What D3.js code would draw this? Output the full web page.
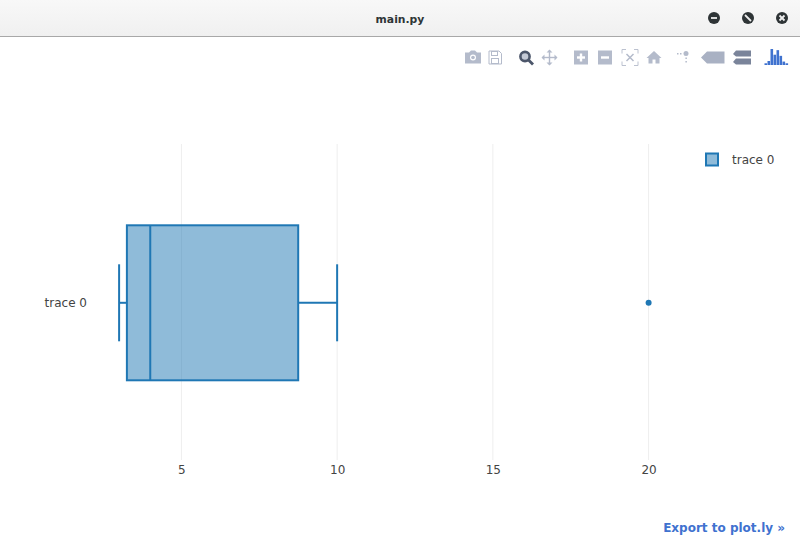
<!DOCTYPE html>
<html><head><meta charset="utf-8">
<script src="https://d3js.org/d3.v7.min.js"></script>
<style>html,body{margin:0;padding:0;background:#fff;overflow:hidden}svg{display:block}text{font-family:"DejaVu Sans",sans-serif}</style>
</head><body><svg id="c" width="800" height="549"></svg>
<script>
const traceNames = ["trace 0"];
const whiskerLow = [3];
const quartile1 = [3.25];
const medians = [4];
const quartile3 = [8.75];
const whiskerHigh = [10];
const outliers = [20];
const xTicks = [5, 10, 15, 20];
const windowTitle = "main.py";
const exportLabel = "Export to plot.ly »";

const svg = d3.select("#c");
const x = d3.scaleLinear().domain([5, 20]).range([181.4, 648.6]);
const y = d3.scaleBand().domain(traceNames).range([144, 460]).paddingInner(0).paddingOuter(0);
const blue = "#1f77b4";

// window chrome
const defs = svg.append("defs");
const g0 = defs.append("linearGradient").attr("id","tb").attr("x1",0).attr("x2",0).attr("y1",0).attr("y2",1);
g0.append("stop").attr("offset",0).attr("stop-color","#f8f8f8");
g0.append("stop").attr("offset",1).attr("stop-color","#f0f0f0");
svg.append("rect").attr("width",800).attr("height",36).attr("fill","url(#tb)");
svg.append("rect").attr("y",36).attr("width",800).attr("height",1).attr("fill","#a8a8a8");
svg.append("text").attr("x",400).attr("y",22.5).attr("text-anchor","middle").attr("font-size",10.8).attr("font-weight","bold").attr("fill","#2e3436").text(windowTitle);
const wb = svg.append("g").attr("fill","#2e3436");
[714,748,782].forEach((cx,i)=>{
  wb.append("circle").attr("cx",cx).attr("cy",18).attr("r",6);
  const s={stroke:"#eee","stroke-width":1.8};
  const l=(a,b,c,d)=>wb.append("line").attr("x1",a).attr("y1",b).attr("x2",c).attr("y2",d).attr("stroke",s.stroke).attr("stroke-width",s["stroke-width"]);
  if(i==0) l(cx-3,18,cx+3,18);
  if(i==1) l(cx-3,15,cx+3,21);
  if(i==2){l(cx-2.5,15.5,cx+2.5,20.5);l(cx-2.5,20.5,cx+2.5,15.5);}
});

// toolbar
const tb = svg.append("g");
const grey="#b4bbcb", dark="#7a849a";
const cam=tb.append("g").attr("transform","translate(473,57.5)");
cam.append("path").attr("d","M-8,-5H-4L-2,-7H2L4,-5H8V6H-8Z").attr("fill",grey);
cam.append("circle").attr("r",3).attr("fill","#fff");cam.append("circle").attr("r",1.8).attr("fill",grey);
const sv=tb.append("g").attr("transform","translate(495,57.5)");
sv.append("path").attr("d","M-6,-6.5H4L6.5,-4V6.5H-6Z").attr("fill","none").attr("stroke",grey).attr("stroke-width",1);
sv.append("rect").attr("x",-3.5).attr("y",-6).attr("width",6).attr("height",4).attr("fill","none").attr("stroke",grey);
sv.append("rect").attr("x",-3.5).attr("y",1).attr("width",7).attr("height",5).attr("fill","none").attr("stroke",grey);
const zm=tb.append("g").attr("transform","translate(525,56.5)");
zm.append("circle").attr("r",4.6).attr("fill","#c4cad6").attr("stroke","#4c566a").attr("stroke-width",2.6);
zm.append("line").attr("x1",3.5).attr("y1",3.5).attr("x2",8).attr("y2",8).attr("stroke","#4c566a").attr("stroke-width",2.8);
const pn=tb.append("g").attr("transform","translate(549.5,57.5)").attr("stroke",grey).attr("stroke-width",1.4).attr("fill",grey);
pn.append("line").attr("x1",-7).attr("x2",7);pn.append("line").attr("y1",-7).attr("y2",7);
pn.append("path").attr("stroke","none").attr("d","M-8,0L-5,-3V3ZM8,0L5,-3V3ZM0,-8L-3,-5H3ZM0,8L-3,5H3Z");
[[581,"p"],[605,"m"]].forEach(([cx,t])=>{
  const g=tb.append("g").attr("transform",`translate(${cx},57.5)`);
  g.append("rect").attr("x",-7).attr("y",-7).attr("width",14).attr("height",14).attr("fill",grey);
  g.append("rect").attr("x",-4).attr("y",-1.2).attr("width",8).attr("height",2.4).attr("fill","#fff");
  if(t=="p") g.append("rect").attr("x",-1.2).attr("y",-4).attr("width",2.4).attr("height",8).attr("fill","#fff");
});
const au=tb.append("g").attr("transform","translate(630,57.5)").attr("fill","none").attr("stroke",grey).attr("stroke-width",0.9);
au.append("path").attr("d","M-8,-4V-8H-4M4,-8H8V-4M8,4V8H4M-4,8H-8V4");
au.append("path").attr("d","M-3.5,-3.5L3.5,3.5M3.5,-3.5L-3.5,3.5").attr("stroke-width",1.5);
tb.append("path").attr("transform","translate(654,57.5)").attr("fill",grey).attr("d","M0,-6.5L7.5,0.5H5.5V6H1.5V2H-1.5V6H-5.5V0.5H-7.5Z");
const sp=tb.append("g").attr("transform","translate(683,57.5)").attr("fill",grey);
sp.append("circle").attr("cx",3).attr("cy",-4).attr("r",2.5);
sp.append("path").attr("d","M-6,-4.5h1.5v1.5h-1.5ZM-3,-4.5h1.5v1.5h-1.5ZM2.4,0h1.5v1.5h-1.5ZM2.4,3.5h1.5v1.5h-1.5Z");
tb.append("path").attr("transform","translate(713,57.5)").attr("fill","#a9b1c3").attr("d","M-12,0L-6,-6H11.5V6H-6Z");
const cp=tb.append("g").attr("transform","translate(742,57.5)").attr("fill",dark);
cp.append("path").attr("d","M-9,-3.5L-6,-7H9V-1H-6Z");
cp.append("path").attr("d","M-9,4.5L-6,1H9V7H-6Z");
const logoV=[1.5,3.5,14,9,13,8,3,1.5];
const ly=d3.scaleLinear().domain([0,14]).range([65,49]);
tb.append("g").attr("fill","#3f72cf").selectAll("rect").data(logoV).join("rect")
  .attr("x",(d,i)=>764.5+i*3).attr("width",2.6).attr("y",d=>ly(d)).attr("height",d=>65-ly(d));

// grid
const plot = svg.append("g");
plot.selectAll("line.g").data(xTicks).join("line").attr("class","g")
  .attr("x1",d=>x(d)).attr("x2",d=>x(d)).attr("y1",144).attr("y2",460)
  .attr("stroke","#eeeeee").attr("stroke-width",1);

// boxes
const cy = y(traceNames[0]) + y.bandwidth()/2 + 0.8;
const halfBox = 77.5, halfCap = 38.5;
traceNames.forEach((n,i)=>{
  const g=plot.append("g").attr("fill","none").attr("stroke",blue).attr("stroke-width",2);
  g.append("rect").attr("x",x(quartile1[i])).attr("y",cy-halfBox).attr("width",x(quartile3[i])-x(quartile1[i])).attr("height",2*halfBox)
    .attr("fill",blue).attr("fill-opacity",0.5);
  g.append("line").attr("x1",x(medians[i])).attr("x2",x(medians[i])).attr("y1",cy-halfBox).attr("y2",cy+halfBox);
  g.append("line").attr("x1",x(whiskerLow[i])).attr("x2",x(quartile1[i])).attr("y1",cy).attr("y2",cy);
  g.append("line").attr("x1",x(quartile3[i])).attr("x2",x(whiskerHigh[i])).attr("y1",cy).attr("y2",cy);
  [whiskerLow[i],whiskerHigh[i]].forEach(v=>g.append("line").attr("x1",x(v)).attr("x2",x(v)).attr("y1",cy-halfCap).attr("y2",cy+halfCap));
  plot.selectAll("circle.o").data(outliers).join("circle").attr("class","o")
    .attr("cx",d=>x(d)).attr("cy",cy).attr("r",3).attr("fill",blue);
  plot.append("text").attr("x",87).attr("y",cy+3.7).attr("text-anchor","end").attr("font-size",12).attr("fill","#444").text(n);
});

// x axis
const ax = svg.append("g").attr("transform","translate(0,460)")
  .call(d3.axisBottom(x).tickValues(xTicks).tickSize(0).tickPadding(5).tickFormat(d3.format("d")));
ax.select(".domain").remove();
ax.selectAll("text").attr("font-size",12).attr("fill","#444").attr("font-family","DejaVu Sans");

// legend
const lg=svg.append("g");
lg.append("rect").attr("x",706).attr("y",153.5).attr("width",12).attr("height",12).attr("fill",blue).attr("fill-opacity",0.5).attr("stroke",blue).attr("stroke-width",2);
lg.append("text").attr("x",732).attr("y",164).attr("font-size",12).attr("fill","#444").text(traceNames[0]);

svg.append("text").attr("x",785).attr("y",532).attr("text-anchor","end").attr("font-size",12).attr("font-weight","bold").attr("fill","#3f72cf").text(exportLabel);
</script></body></html>
